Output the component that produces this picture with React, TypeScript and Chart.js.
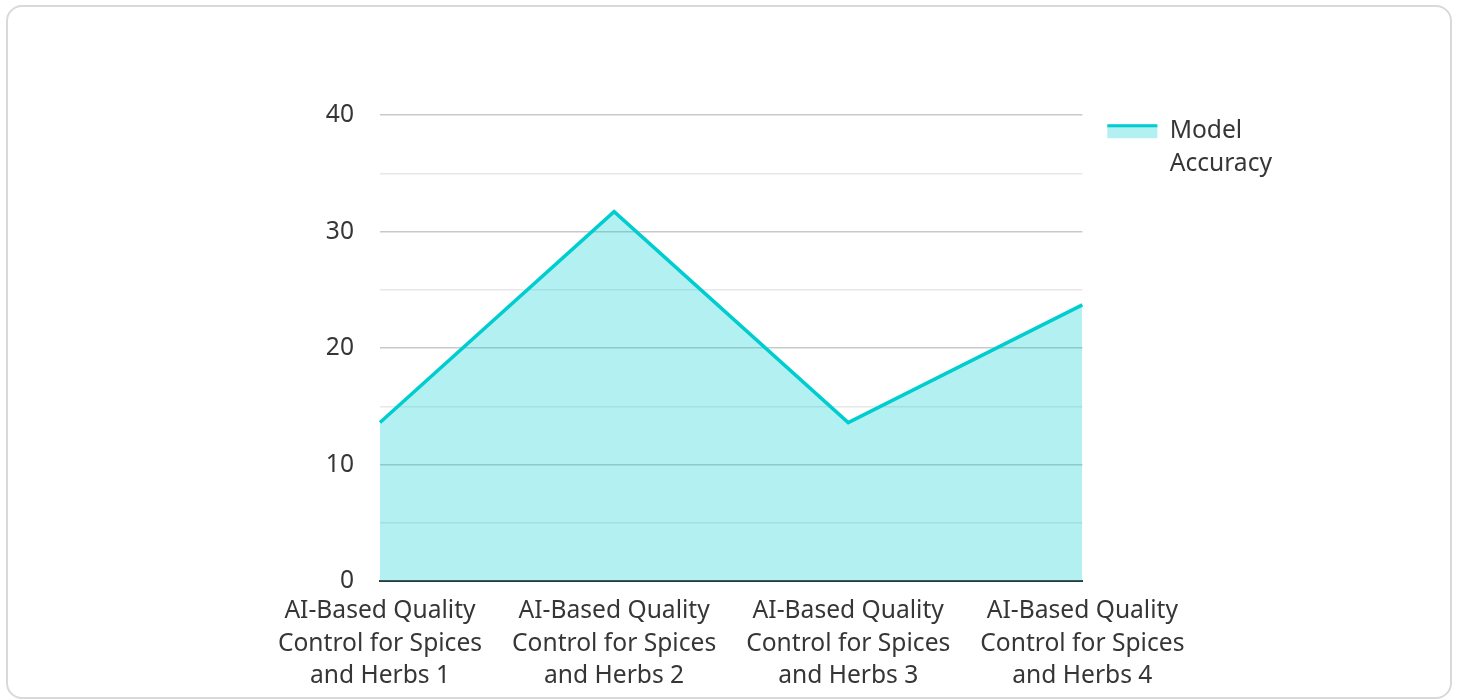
import React, { useEffect, useRef } from "react";
import { Chart, registerables } from "chart.js";

Chart.register(...registerables);

const categories: string[][] = [
  ["AI-Based Quality", "Control for Spices", "and Herbs 1"],
  ["AI-Based Quality", "Control for Spices", "and Herbs 2"],
  ["AI-Based Quality", "Control for Spices", "and Herbs 3"],
  ["AI-Based Quality", "Control for Spices", "and Herbs 4"],
];
const modelAccuracy: number[] = [13.6, 31.7, 13.6, 23.7];
const seriesLabel: string[] = ["Model", "Accuracy"];
const yMax = 40;
const yStep = 5;

const LINE = "#00cdcf";
const FILL = "rgba(0, 205, 207, 0.3)";
const TEXT = "#363636";
const FAMILY = "'Noto Sans', 'Open Sans', sans-serif";
const FONT_SIZE = 24.6;

const legendLinePlugin = {
  id: "legendLine",
  afterDraw(chart: any) {
    const legend = chart.legend;
    if (!legend || !legend.legendHitBoxes) return;
    const opts = legend.options.labels;
    const boxH = opts.boxHeight;
    const ctx = chart.ctx;
    legend.legendHitBoxes.forEach((hb: any) => {
      const y = hb.top + Math.max((FONT_SIZE - boxH) / 2, 0);
      ctx.save();
      ctx.fillStyle = LINE;
      ctx.fillRect(hb.left, y, opts.boxWidth, 3);
      ctx.restore();
    });
  },
};

export default function App() {
  const ref = useRef<HTMLCanvasElement | null>(null);
  useEffect(() => {
    if (!ref.current) return;
    const font = { family: FAMILY, size: FONT_SIZE, lineHeight: 1.32 };
    const chart = new Chart(ref.current, {
      type: "line",
      data: {
        labels: categories as any,
        datasets: [
          {
            label: seriesLabel as any,
            data: modelAccuracy,
            borderColor: LINE,
            backgroundColor: FILL,
            borderWidth: 3.5,
            fill: "origin",
            tension: 0,
            pointRadius: 0,
            pointHoverRadius: 0,
          },
        ],
      },
      plugins: [legendLinePlugin],
      options: {
        animation: false,
        responsive: true,
        maintainAspectRatio: false,
        layout: { padding: { left: 300, right: 167, top: 87, bottom: 0 } },
        plugins: {
          tooltip: { enabled: false },
          title: {
            display: true,
            text: "",
            font: { size: 10, lineHeight: 1 },
            padding: { top: 0, bottom: 11 },
          },
          legend: {
            position: "right",
            align: "start",
            labels: {
              boxWidth: 50,
              boxHeight: 14,
              padding: 25,
              color: TEXT,
              font,
              generateLabels: (chart: any) =>
                chart.data.datasets.map((ds: any, i: number) => ({
                  text: ds.label,
                  fillStyle: FILL,
                  strokeStyle: "rgba(0,0,0,0)",
                  lineWidth: 0,
                  hidden: false,
                  datasetIndex: i,
                  fontColor: TEXT,
                })),
            },
          },
        },
        scales: {
          x: {
            offset: false,
            grid: { display: false, drawTicks: false },
            border: { display: true, color: "#333333", width: 2 },
            afterFit: (s: any) => {
              s.height = 116;
            },
            ticks: {
              color: TEXT,
              padding: 14,
              maxRotation: 0,
              autoSkip: false,
              font,
            },
          },
          y: {
            min: 0,
            max: yMax,
            border: { display: false },
            afterFit: (s: any) => {
              s.width = 71;
            },
            grid: {
              drawTicks: false,
              lineWidth: 1.5,
              color: (c: any) =>
                c.tick && c.tick.value % 10 === 0 ? "#c9c9c9" : "#e8e8e8",
            },
            ticks: {
              stepSize: yStep,
              padding: 26,
              color: TEXT,
              font,
              callback: (v: any) => (Number(v) % 10 === 0 ? String(v) : ""),
            },
          },
        },
      },
    });
    return () => chart.destroy();
  }, []);

  return (
    <div
      style={{
        position: "fixed",
        left: 6,
        top: 5,
        width: 1446,
        height: 694,
        border: "2px solid #d9d9d9",
        borderRadius: 16,
        boxSizing: "border-box",
        background: "#fff",
      }}
    >
      <div style={{ position: "absolute", left: 1, top: 0, width: 1440, height: 690 }}>
        <canvas ref={ref} />
      </div>
    </div>
  );
}
